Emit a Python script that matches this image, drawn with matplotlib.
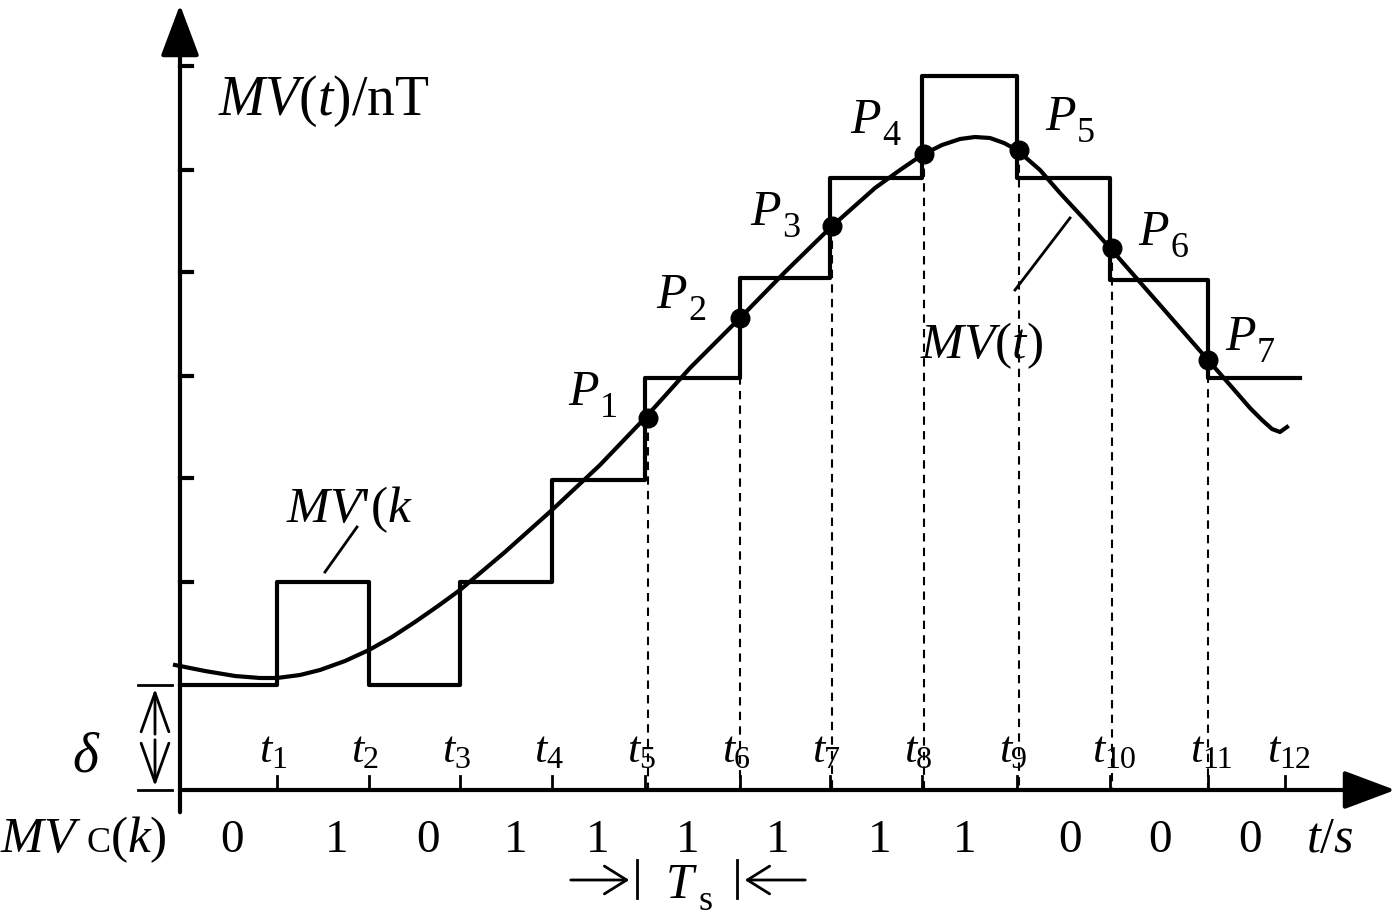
import matplotlib
matplotlib.use("Agg")
import matplotlib.pyplot as plt
from matplotlib.patches import FancyArrowPatch

plt.rcParams['font.family'] = ['Liberation Serif', 'DejaVu Serif']
plt.rcParams['mathtext.fontset'] = 'custom'
plt.rcParams['mathtext.it'] = 'Liberation Serif:italic'
plt.rcParams['mathtext.rm'] = 'Liberation Serif'

# schematic data (pixel-space of the drawing)
t_ticks = [277, 369, 460, 552, 645, 740, 830, 922, 1017, 1110, 1208, 1285]
y_ticks = [66, 170, 272, 376, 478, 582]
step_edges = [180, 277, 369, 460, 552, 645, 740, 830, 922, 1017, 1110, 1208, 1300]
step_levels = [685, 582, 685, 582, 480, 378, 278, 178, 76, 178, 280, 378]
curve_x = [175, 205, 235, 260, 277, 300, 320, 345, 369, 392, 415, 438, 460, 505, 552, 600, 645, 690, 740, 785, 830, 875, 900, 922, 942, 960, 975, 990, 1004, 1017, 1040, 1060, 1085, 1110, 1160, 1208, 1230, 1250, 1262, 1272, 1280, 1287]
curve_y = [665, 671, 676, 678, 678, 675, 670, 661, 650, 637, 622, 606, 590, 552, 510, 465, 418, 368, 318, 272, 228, 188, 170, 155, 145, 139, 137, 138, 143, 150, 170, 193, 220, 248, 305, 360, 385, 408, 420, 429, 432, 427]
p_x = [648, 740, 832, 924, 1019, 1112, 1208]
p_y = [418, 318, 226, 154, 150, 248, 360]
p_lab_x = [568, 656, 750, 850, 1045, 1138, 1225]
p_lab_y = [405, 308, 225, 133, 130, 245, 350]
bits = ['0', '1', '0', '1', '1', '1', '1', '1', '1', '0', '0', '0']
bit_x = [232, 337, 428, 516, 598, 688, 778, 880, 965, 1070, 1160, 1250]

fig = plt.figure(figsize=(14, 9.16), dpi=100)
ax = fig.add_axes([0, 0, 1, 1])
ax.set_xlim(0, 1400); ax.set_ylim(916, 0); ax.axis('off')
lw = 3
ax.add_patch(FancyArrowPatch((180, 815), (180, 2), arrowstyle='-|>,head_length=1.6,head_width=0.6', mutation_scale=20, color='k', lw=lw))
ax.add_patch(FancyArrowPatch((180, 790), (1398, 790), arrowstyle='-|>,head_length=1.6,head_width=0.6', mutation_scale=20, color='k', lw=lw))
for y in y_ticks:
    ax.plot([180, 192], [y, y], color='k', lw=lw)
for i, x in enumerate(t_ticks):
    ax.plot([x, x], [776, 790], color='k', lw=2)
    ax.text(x - 18, 762, r'$t$', fontsize=32, ha='left', va='baseline')
    ax.text(x - 6, 768, str(i + 1), fontsize=23, ha='left', va='baseline')
sx, sy = [], []
for i, lv in enumerate(step_levels):
    sx += [step_edges[i], step_edges[i + 1]]
    sy += [lv, lv]
ax.plot(sx, sy, color='k', lw=lw)
ax.plot(curve_x, curve_y, color='k', lw=lw, solid_joinstyle='round')
for x, y in zip(p_x, p_y):
    ax.plot([x, x], [y, 790], color='k', lw=1.5, ls=(0, (4, 3)))
ax.scatter(p_x, p_y, s=180, color='k', zorder=5)
for i, (x, y) in enumerate(zip(p_lab_x, p_lab_y)):
    ax.text(x, y, r'$P$', fontsize=36, va='baseline')
    ax.text(x + 32, y + 12, str(i + 1), fontsize=26, va='baseline')
for x, b in zip(bit_x, bits):
    ax.text(x, 852, b, fontsize=34, ha='center', va='baseline')
ax.text(218, 115, r'$MV$($t$)/nT', fontsize=40, va='baseline')
ax.text(286, 522, r"$MV$'($k$", fontsize=37, va='baseline')
ax.plot([357, 325], [527, 572], color='k', lw=2)
ax.text(920, 358, r"$MV$($t$)", fontsize=37, va='baseline')
ax.plot([1070, 1015], [218, 290], color='k', lw=2)
ax.text(0, 852, r"$MV$", fontsize=37, va='baseline')
ax.text(86, 852, "C", fontsize=26, va='baseline')
ax.text(110, 852, "($k$)", fontsize=37, va='baseline')
ax.text(1306, 852, r"$t/s$", fontsize=36, va='baseline')
ax.text(72, 772, r"$\delta$", fontsize=40, va='baseline')
ax.plot([138, 172], [685, 685], color='k', lw=2)
ax.plot([138, 172], [790, 790], color='k', lw=2)
ax.add_patch(FancyArrowPatch((155, 737), (155, 686), arrowstyle='->,head_length=1.4,head_width=0.5', mutation_scale=20, color='k', lw=2))
ax.add_patch(FancyArrowPatch((155, 737), (155, 789), arrowstyle='->,head_length=1.4,head_width=0.5', mutation_scale=20, color='k', lw=2))
ax.add_patch(FancyArrowPatch((568, 880), (632, 880), arrowstyle='->,head_length=0.8,head_width=0.5', mutation_scale=20, color='k', lw=2))
ax.add_patch(FancyArrowPatch((808, 880), (742, 880), arrowstyle='->,head_length=0.8,head_width=0.5', mutation_scale=20, color='k', lw=2))
ax.plot([637, 637], [860, 898], color='k', lw=2)
ax.plot([737, 737], [860, 898], color='k', lw=2)
ax.text(665, 898, r"$T$", fontsize=36, va='baseline')
ax.text(698, 910, "s", fontsize=26, va='baseline')
fig.savefig('out.png', dpi=100)
